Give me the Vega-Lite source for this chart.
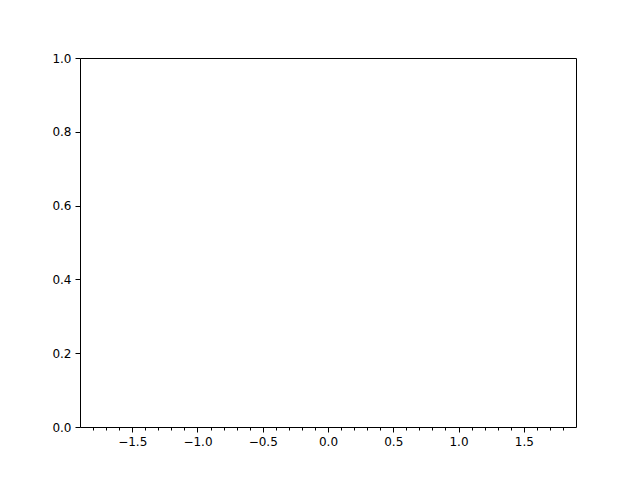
{
  "$schema": "https://vega.github.io/schema/vega-lite/v6.json",
  "width": 496,
  "height": 369,
  "autosize": {"type": "none"},
  "padding": {"left": 80, "top": 58, "right": 64, "bottom": 53},
  "background": "white",
  "config": {
    "view": {"stroke": "black", "strokeWidth": 1},
    "axis": {
      "domain": false,
      "grid": false,
      "tickColor": "black",
      "tickWidth": 1,
      "tickSize": 5,
      "labelColor": "black",
      "labelFont": "DejaVu Sans",
      "labelFontSize": 12,
      "labelPadding": 4
    }
  },
  "data": {"values": []},
  "layer": [
    {
      "mark": {"type": "point", "opacity": 0},
      "encoding": {
        "x": {
          "field": "x",
          "type": "quantitative",
          "scale": {"domain": [-1.9, 1.9], "nice": false, "zero": false},
          "axis": {
            "orient": "bottom",
            "values": [-1.5, -1, -0.5, 0, 0.5, 1, 1.5],
            "format": ".1f",
            "title": null
          }
        },
        "y": {
          "field": "y",
          "type": "quantitative",
          "scale": {"domain": [0, 1], "nice": false, "zero": false},
          "axis": {
            "values": [0, 0.2, 0.4, 0.6, 0.8, 1],
            "format": ".1f",
            "title": null
          }
        }
      }
    },
    {
      "mark": {"type": "point", "opacity": 0},
      "encoding": {
        "x": {
          "field": "x",
          "type": "quantitative",
          "axis": {
            "orient": "bottom",
            "values": [-1.8, -1.7, -1.6, -1.4, -1.3, -1.2, -1.1, -0.9, -0.8, -0.7, -0.6, -0.4, -0.3, -0.2, -0.1, 0.1, 0.2, 0.3, 0.4, 0.6, 0.7, 0.8, 0.9, 1.1, 1.2, 1.3, 1.4, 1.6, 1.7, 1.8],
            "labels": false,
            "tickSize": 3,
            "title": null
          }
        }
      }
    }
  ],
  "resolve": {"axis": {"x": "independent"}}
}
